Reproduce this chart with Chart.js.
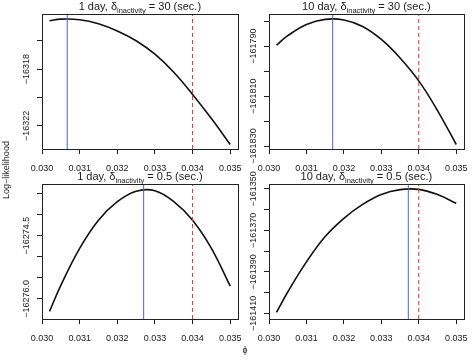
<!DOCTYPE html>
<html>
<head>
<meta charset="utf-8">
<script src="https://cdn.jsdelivr.net/npm/chart.js@4.4.0/dist/chart.umd.min.js"></script>
<style>
  body { margin: 0; background: #fff; width: 474px; height: 361px; position: relative; overflow: hidden;
         font-family: "Liberation Sans", Arial, sans-serif; color: #1a1a1a; }
  canvas { position: absolute; }
  .lab { position: absolute; font-size: 9px; line-height: 12px; height: 12px; text-align: center; white-space: nowrap; }
  #ylab { left: -44px; top: 164px; width: 100px; transform: rotate(-90deg); }
  #xlab { left: 225px; top: 344px; width: 40px; }
</style>
</head>
<body>
<canvas id="p0" width="251" height="175" style="left:0;top:0"></canvas>
<canvas id="p1" width="250" height="175" style="left:227px;top:0"></canvas>
<canvas id="p2" width="251" height="175" style="left:0;top:170px"></canvas>
<canvas id="p3" width="250" height="175" style="left:227px;top:170px"></canvas>
<div class="lab" id="ylab">Log−likelihood</div>
<div class="lab" id="xlab">ϕ</div>
<script>
// phi grid shared by all four panels
const phi = [0.0302, 0.0305, 0.031, 0.0315, 0.032, 0.0325, 0.033, 0.0335, 0.034, 0.0345, 0.035];

// log-likelihood curves
const ll1day30 = [-16314.59, -16314.48, -16314.52, -16314.80, -16315.31, -16316.00, -16316.95, -16318.22, -16319.78, -16321.48, -16323.30];
const ll10day30 = [-161789.6, -161785.8, -161781.3, -161779.25, -161779.5, -161782.1, -161787.3, -161794.7, -161803.9, -161815.8, -161829.4];
const ll1day05 = [-16276.30, -16275.68, -16274.80, -16274.13, -16273.69, -16273.44, -16273.43, -16273.69, -16274.13, -16274.80, -16275.70];
const ll10day05 = [-161409.5, -161399.7, -161385.2, -161373.0, -161364.2, -161357.5, -161352.7, -161350.4, -161350.3, -161352.8, -161357.0];

// estimated phi (blue) per panel, true phi (red dashed)
const phiHat = [0.03067, 0.0317, 0.0327, 0.03372];
const phiTrue = 0.034;

const xLim = [0.03, 0.0352];
const xTicks = [0.030, 0.031, 0.032, 0.033, 0.034, 0.035];
const xTickLabels = ['0.030', '0.031', '0.032', '0.033', '0.034', '0.035'];

const yLim1 = [-16323.62, -16314.12];
const yLim2 = [-161831.2, -161777.1];
const yLim3 = [-16276.48, -16273.27];
const yLim4 = [-161412.7, -161347.7];

const yTicks1 = [-16322, -16320, -16318, -16316];
const yTicks2 = [-161830, -161820, -161810, -161800, -161790, -161780];
const yTicks3 = [-16276.0, -16275.5, -16275.0, -16274.5, -16274.0, -16273.5];
const yTicks4 = [-161410, -161400, -161390, -161380, -161370, -161360, -161350];

const yLabels1 = ['−16322', '', '−16318', ''];
const yLabels2 = ['−161830', '', '−161810', '', '−161790', ''];
const yLabels3 = ['−16276.0', '', '', '−16274.5', '', ''];
const yLabels4 = ['−161410', '', '−161390', '', '−161370', '', '−161350'];

const titleDays = ['1 day', '10 day', '1 day', '10 day'];
const titleDeltas = ['30', '30', '0.5', '0.5'];

const FONT = '"Liberation Sans", Arial, sans-serif';
const INK = '#1a1a1a';

const panelDeco = {
  id: 'panelDeco',
  afterDraw(chart, args, opts) {
    const ctx = chart.ctx;
    const a = chart.chartArea;
    const ys = chart.scales.y;
    ctx.save();
    // box around the plot region
    ctx.strokeStyle = '#222';
    ctx.lineWidth = 1;
    ctx.strokeRect(Math.round(a.left) + 0.5, Math.round(a.top) + 0.5,
                   Math.round(a.right - a.left), Math.round(a.bottom - a.top));
    // rotated y tick labels, like R's las = 0
    ctx.fillStyle = INK;
    ctx.font = '9px ' + FONT;
    ctx.textAlign = 'center';
    ctx.textBaseline = 'middle';
    opts.ticks.forEach((v, i) => {
      if (!opts.labels[i]) return;
      ctx.save();
      ctx.translate(a.left - 15, ys.getPixelForValue(v));
      ctx.rotate(-Math.PI / 2);
      ctx.fillText(opts.labels[i], 0, 0);
      ctx.restore();
    });
    // title with subscript
    const mainFont = '11px ' + FONT;
    const subFont = '7.5px ' + FONT;
    const parts = [
      [opts.day + ', δ', mainFont, 0],
      ['inactivity', subFont, 2.5],
      [' = ' + opts.delta + ' (sec.)', mainFont, 0]
    ];
    let total = 0;
    parts.forEach(p => { ctx.font = p[1]; total += ctx.measureText(p[0]).width; });
    let x = (a.left + a.right) / 2 - total / 2;
    ctx.textAlign = 'left';
    ctx.textBaseline = 'alphabetic';
    parts.forEach(p => {
      ctx.font = p[1];
      ctx.fillText(p[0], x, 10 + p[2]);
      x += ctx.measureText(p[0]).width;
    });
    ctx.restore();
  }
};

function makePanel(id, ll, hat, yLim, yTicks, yLabels, day, delta) {
  new Chart(document.getElementById(id), {
    type: 'line',
    data: {
      datasets: [
        { data: [{ x: hat, y: yLim[0] }, { x: hat, y: yLim[1] }], borderColor: '#5262cc', borderWidth: 1 },
        { data: [{ x: phiTrue, y: yLim[0] }, { x: phiTrue, y: yLim[1] }], borderColor: '#e2302c', borderWidth: 1, borderDash: [4, 3] },
        { data: phi.map((x, i) => ({ x: x, y: ll[i] })), borderColor: '#111', borderWidth: 1.6, tension: 0.4 }
      ]
    },
    options: {
      responsive: false,
      animation: false,
      layout: { padding: { top: 14, right: 13, left: 0, bottom: 0 } },
      elements: { point: { radius: 0 } },
      plugins: {
        legend: { display: false },
        tooltip: { enabled: false },
        panelDeco: { ticks: yTicks, labels: yLabels, day: day, delta: delta }
      },
      scales: {
        x: {
          type: 'linear',
          min: xLim[0], max: xLim[1],
          afterBuildTicks: s => { s.ticks = xTicks.map(v => ({ value: v })); },
          afterFit: s => { s.height = 26; },
          ticks: { callback: (v, i) => xTickLabels[i], font: { family: FONT, size: 9 }, color: INK,
                   padding: 9, autoSkip: false, maxRotation: 0 },
          grid: { drawOnChartArea: false, tickLength: 5, tickColor: '#222' },
          border: { color: '#222' }
        },
        y: {
          type: 'linear',
          min: yLim[0], max: yLim[1],
          afterBuildTicks: s => { s.ticks = yTicks.map(v => ({ value: v })); },
          afterFit: s => { s.width = 42; },
          ticks: { display: false },
          grid: { drawOnChartArea: false, tickLength: 5, tickColor: '#222' },
          border: { color: '#222' }
        }
      }
    },
    plugins: [panelDeco]
  });
}

makePanel('p0', ll1day30, phiHat[0], yLim1, yTicks1, yLabels1, titleDays[0], titleDeltas[0]);
makePanel('p1', ll10day30, phiHat[1], yLim2, yTicks2, yLabels2, titleDays[1], titleDeltas[1]);
makePanel('p2', ll1day05, phiHat[2], yLim3, yTicks3, yLabels3, titleDays[2], titleDeltas[2]);
makePanel('p3', ll10day05, phiHat[3], yLim4, yTicks4, yLabels4, titleDays[3], titleDeltas[3]);
</script>
</body>
</html>
